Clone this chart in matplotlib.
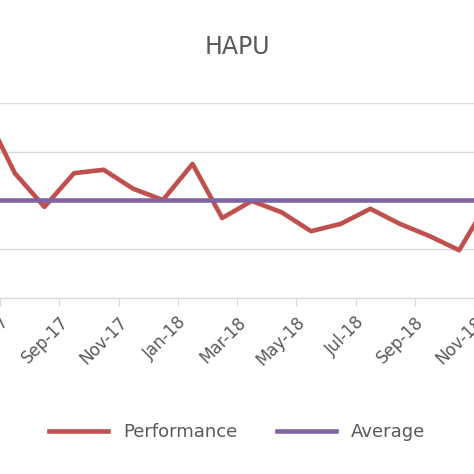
import matplotlib.pyplot as plt
import numpy as np

# monthly performance values (Jul-17 .. Dec-18)
months = ['Jul-17', 'Aug-17', 'Sep-17', 'Oct-17', 'Nov-17', 'Dec-17', 'Jan-18', 'Feb-18',
          'Mar-18', 'Apr-18', 'May-18', 'Jun-18', 'Jul-18', 'Aug-18', 'Sep-18', 'Oct-18',
          'Nov-18', 'Dec-18']
performance = [3.8, 2.56, 1.87, 2.56, 2.63, 2.24, 2.01, 2.75, 1.64, 1.99, 1.76, 1.37,
               1.52, 1.83, 1.52, 1.27, 0.98, 2.0]
average = 2.0
tick_labels = ['Jul-17', 'Sep-17', 'Nov-17', 'Jan-18', 'Mar-18', 'May-18', 'Jul-18',
               'Sep-18', 'Nov-18']

W = 474
fig = plt.figure(figsize=(4.74, 4.74), dpi=100)
ax = fig.add_axes([0, 1 - 298 / W, 1, 195 / W])

x = np.arange(len(months)) - 1
ax.plot(x, performance, color='#c0504d', lw=3.3, label='Performance')
ax.plot([x[0], x[-1]], [average, average], color='#8064a2', lw=3.3, label='Average')

# pixel mapping: x_pix = 10 + 30.4*k
ax.set_xlim(-10 / 30.4, (W - 10) / 30.4)
ax.set_ylim(0, 4)
ax.set_yticks([0, 1, 2, 3, 4])
ax.yaxis.grid(True, color='#d9d9d9', lw=1)
ax.set_axisbelow(True)
ax.tick_params(axis='y', length=0, labelleft=False)
for s in ['top', 'right', 'left']:
    ax.spines[s].set_visible(False)
ax.spines['bottom'].set_color('#d9d9d9')

pos = np.arange(len(tick_labels)) * 2 - 0.5
ax.set_xticks(pos)
ax.set_xticklabels(tick_labels, rotation=45, ha='right', rotation_mode='anchor',
                   fontsize=12, color='#595959')
ax.tick_params(axis='x', length=6, color='#d9d9d9', pad=5)

fig.text(0.5, 1 - 47 / W, 'HAPU', ha='center', va='center', fontsize=17, color='#595959')
fig.legend(loc='center', bbox_to_anchor=(0.5, 1 - 432 / W), ncol=2, frameon=False,
           fontsize=13, labelcolor='#595959', handlelength=3.3, columnspacing=2.2)

fig.savefig('out.png', dpi=100)
